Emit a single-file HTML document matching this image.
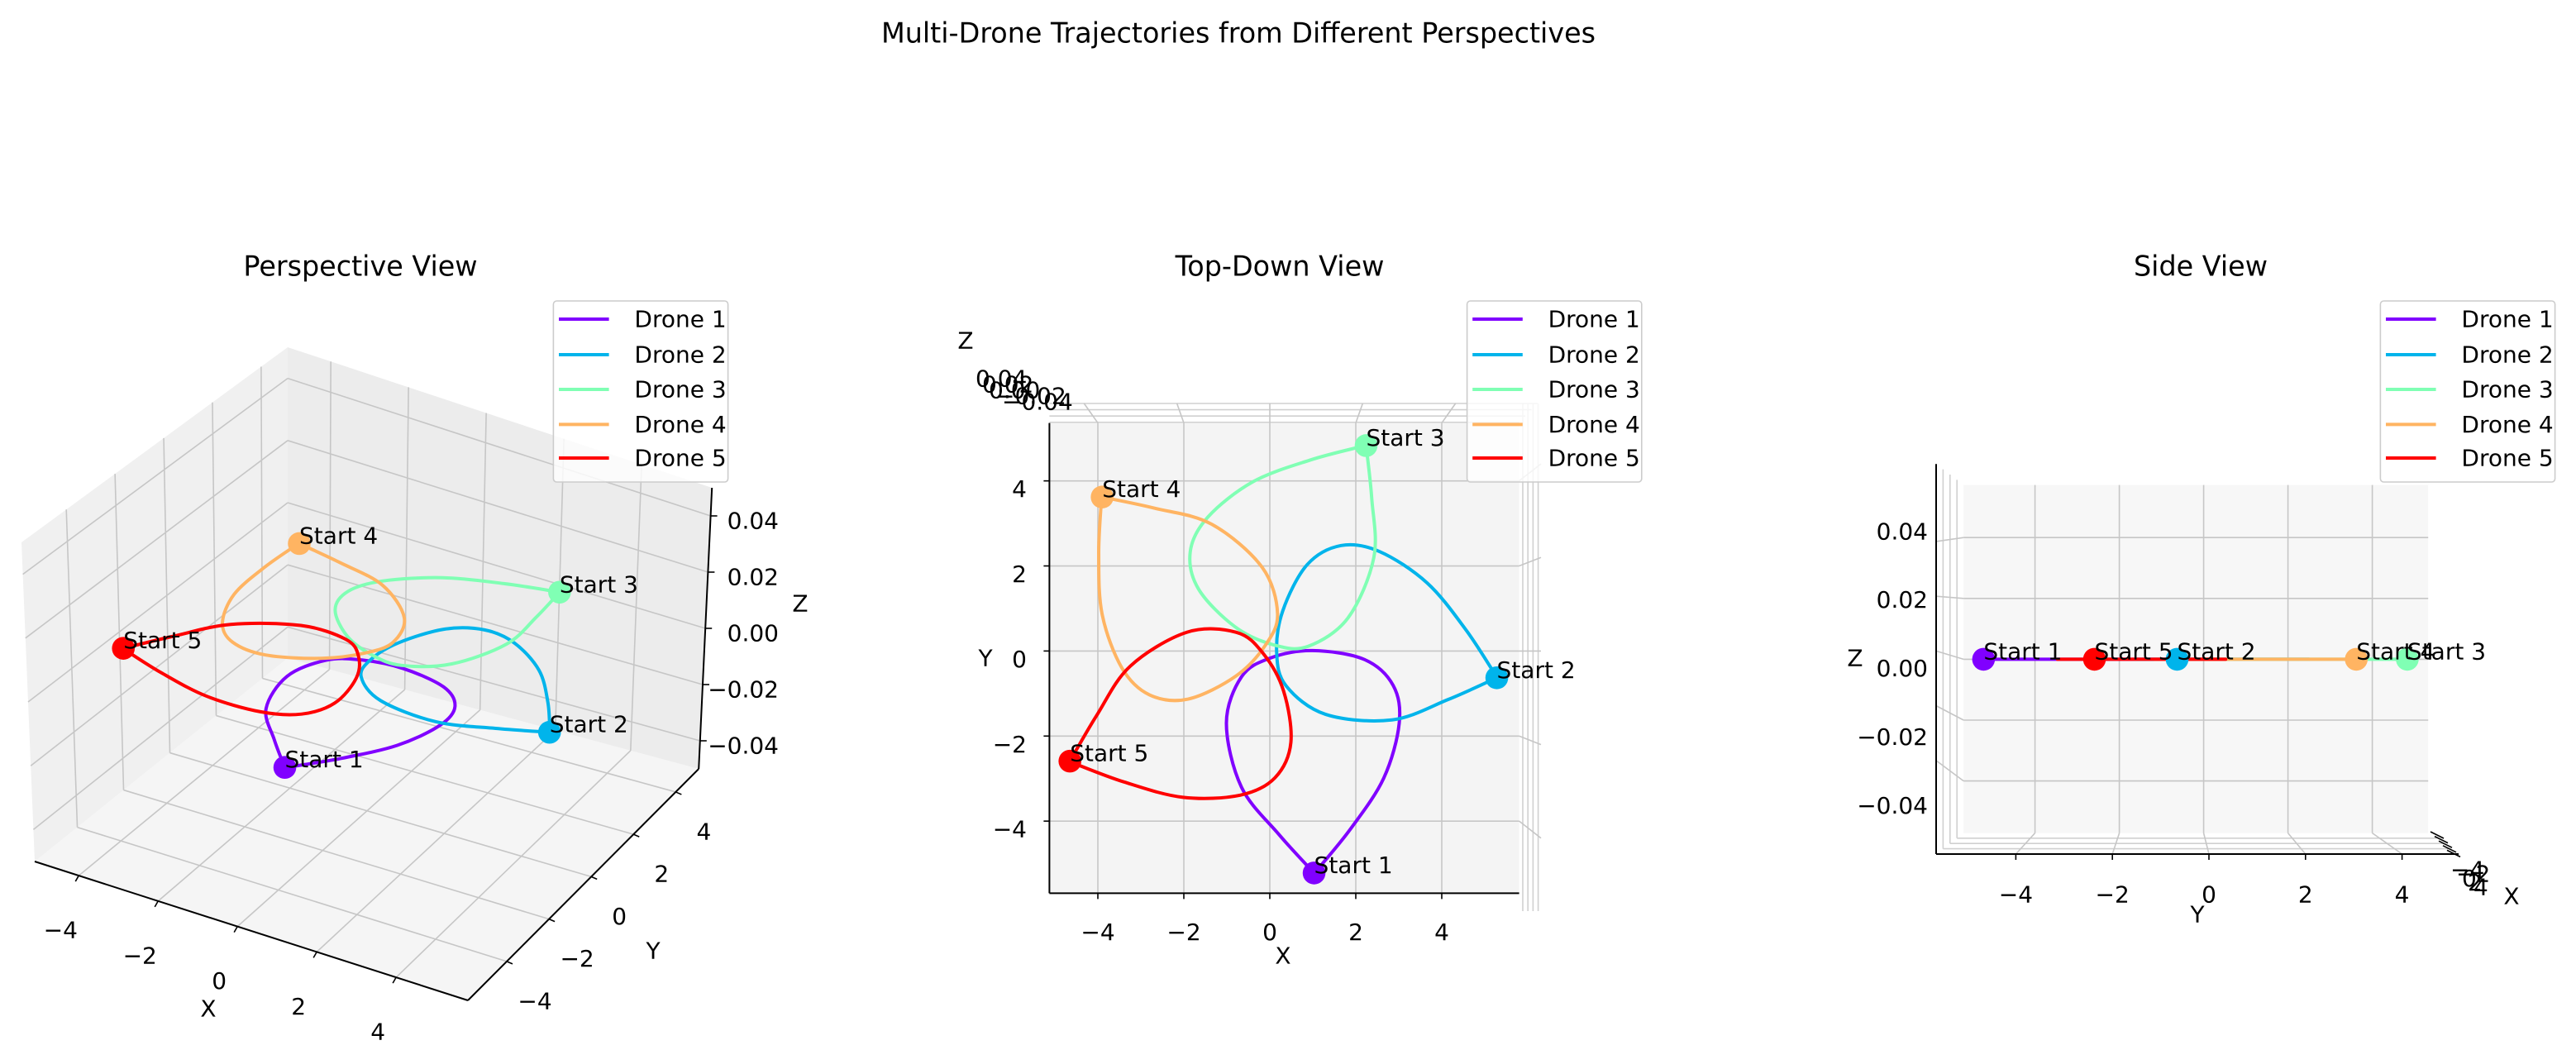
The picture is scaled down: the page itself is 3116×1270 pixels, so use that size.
<!DOCTYPE html>
<html><head><meta charset="utf-8"><style>
html,body{margin:0;padding:0;background:#fff}
svg{display:block}
text{font-family:"DejaVu Sans","Liberation Sans",sans-serif;fill:#000}
</style></head><body>
<svg id="fig" width="3116" height="1270" viewBox="0 0 1558 635" preserveAspectRatio="none" xmlns="http://www.w3.org/2000/svg">
<text x="749" y="20" font-size="16.7" text-anchor="middle" dominant-baseline="central">Multi-Drone Trajectories from Different Perspectives</text>
<text x="218" y="161" font-size="16.7" text-anchor="middle" dominant-baseline="central">Perspective View</text>
<text x="774" y="161" font-size="16.7" text-anchor="middle" dominant-baseline="central">Top-Down View</text>
<text x="1331" y="161" font-size="16.7" text-anchor="middle" dominant-baseline="central">Side View</text>
</svg>
<script>
const droneNames = ['Drone 1','Drone 2','Drone 3','Drone 4','Drone 5'];
const startLabels = ['Start 1','Start 2','Start 3','Start 4','Start 5'];
const drone1X = [1.03,0.2,-0.66,-1.01,-0.66,0,0.99,2.2,2.87,3.01,2.65,1.88,1.1];
const drone1Y = [-5.22,-4.3,-3.2,-1.7,-0.61,-0.17,0.01,-0.2,-0.81,-1.7,-2.99,-4.18,-5.15];
const drone2X = [5.28,4.15,2.84,1.30,0.38,0.16,0.30,0.87,1.66,2.55,3.66,4.56,5.24];
const drone2Y = [-0.63,-1.14,-1.62,-1.49,-0.82,-0.05,0.94,2.03,2.48,2.34,1.60,0.50,-0.55];
const drone3X = [2.24,2.37,2.42,1.82,0.89,0.10,-0.81,-1.66,-1.85,-1.44,-0.39,0.94,2.14];
const drone3Y = [4.83,3.60,2.20,0.78,0.11,0.14,0.57,1.46,2.34,3.15,3.98,4.49,4.81];
const drone4X = [-3.90,-2.69,-1.35,-0.18,0.18,-0.10,-0.79,-1.90,-2.80,-3.44,-3.90,-3.98,-3.92];
const drone4Y = [3.62,3.36,2.98,1.97,0.88,0.14,-0.59,-1.13,-1.03,-0.40,0.86,2.28,3.52];
const drone5X = [-4.65,-4.03,-3.25,-1.93,-0.78,-0.16,0.32,0.49,0.12,-0.69,-2.02,-3.39,-4.56];
const drone5Y = [-2.59,-1.52,-0.36,0.44,0.44,-0.05,-0.94,-2.15,-2.98,-3.39,-3.44,-3.08,-2.64];
const drone1Z = [0,0,0,0,0,0,0,0,0,0,0,0,0];
const drone2Z = [0,0,0,0,0,0,0,0,0,0,0,0,0];
const drone3Z = [0,0,0,0,0,0,0,0,0,0,0,0,0];
const drone4Z = [0,0,0,0,0,0,0,0,0,0,0,0,0];
const drone5Z = [0,0,0,0,0,0,0,0,0,0,0,0,0];
const xyTicks = [-4,-2,0,2,4];
const xyTickLabels = ['−4','−2','0','2','4'];
const zTicks = [0.04,0.02,0,-0.02,-0.04];
const zTickLabels = ['0.04','0.02','0.00','−0.02','−0.04'];

const dronesX=[drone1X,drone2X,drone3X,drone4X,drone5X];
const dronesY=[drone1Y,drone2Y,drone3Y,drone4Y,drone5Y];
const dronesZ=[drone1Z,drone2Z,drone3Z,drone4Z,drone5Z];
const colors=['#8000ff','#00b4eb','#80ffb4','#ffb462','#ff0000'];
const NS='http://www.w3.org/2000/svg';
const svg=document.getElementById('fig');
function mk(tag,attrs,parent){const e=document.createElementNS(NS,tag);for(const k in attrs)e.setAttribute(k,attrs[k]);(parent||svg).appendChild(e);return e;}
function txt(s,x,y,size,anchor,base,parent){const t=mk('text',{x:x,y:y,'font-size':size,'text-anchor':anchor||'start','dominant-baseline':base||'central'},parent);t.textContent=s;return t;}
function line(a,b,stroke,w,parent){return mk('line',{x1:a[0],y1:a[1],x2:b[0],y2:b[1],stroke:stroke,'stroke-width':w},parent);}
function smooth(pts){let d='M'+pts[0][0].toFixed(2)+','+pts[0][1].toFixed(2);for(let i=0;i<pts.length-1;i++){const p0=pts[Math.max(0,i-1)],p1=pts[i],p2=pts[i+1],p3=pts[Math.min(pts.length-1,i+2)];const c1=[p1[0]+(p2[0]-p0[0])/6,p1[1]+(p2[1]-p0[1])/6],c2=[p2[0]-(p3[0]-p1[0])/6,p2[1]-(p3[1]-p1[1])/6];d+='C'+c1[0].toFixed(2)+','+c1[1].toFixed(2)+' '+c2[0].toFixed(2)+','+c2[1].toFixed(2)+' '+p2[0].toFixed(2)+','+p2[1].toFixed(2);}return d;}
function legend(x0,g){const box=mk('rect',{x:x0,y:182,width:105.6,height:109.5,rx:2,fill:'#fff','fill-opacity':0.8,stroke:'#cccccc','stroke-width':0.8},g);


const offs=[11,32.5,53.5,74.7,95];
for(let i=0;i<5;i++){const l=line([x0+3.3,182+offs[i]],[x0+33.6,182+offs[i]],colors[i],2,g);


const t=txt(droneNames[i],x0+49,182+offs[i],14,'start','central',g);

}}
function drawDrones(g,proj,panel){
for(let i=0;i<5;i++){const pts=dronesX[i].map((x,k)=>proj(x,dronesY[i][k],dronesZ[i][k]));const p=mk('path',{d:smooth(pts),fill:'none',stroke:colors[i],'stroke-width':2,'stroke-linejoin':'round'},g);

}
for(let i=0;i<5;i++){const s=proj(dronesX[i][0],dronesY[i][0],dronesZ[i][0]);const c=mk('circle',{cx:s[0],cy:s[1],r:6.9,fill:colors[i]},g);

}
for(let i=0;i<5;i++){const s=proj(dronesX[i][0],dronesY[i][0],dronesZ[i][0]);const t=txt(startLabels[i],s[0],s[1],14,'start','alphabetic',g);

}}

/* ---------- Panel 1: perspective ---------- */
const g1=mk('g',{});


const C={L:[21,521],F:[283,605],R:[422.6,465],B:[174,398],Lt:[13,328],Ft:[276,410],Rt:[430.6,295],Bt:[174,210]};
const xl=[-5.11,5.81],yl=[-5.84,5.09],zl=[-0.05,0.05];
function p1raw(x,y,z){const u=(x-xl[0])/(xl[1]-xl[0]),v=(y-yl[0])/(yl[1]-yl[0]),w=(z-zl[0])/(zl[1]-zl[0]);
const bl=(a,b,c,d)=>[0,1].map(k=>(1-u)*(1-v)*a[k]+u*(1-v)*b[k]+u*v*c[k]+(1-u)*v*d[k]);
const bo=bl(C.L,C.F,C.R,C.B),tp=bl(C.Lt,C.Ft,C.Rt,C.Bt);return [bo[0]+(tp[0]-bo[0])*w,bo[1]+(tp[1]-bo[1])*w];}
function p1grid(x,y,z){return p1raw(x,y,z);}
function p1(x,y,z){const p=p1raw(x,y,z);return [p[0]-0.9*Math.max(0,x)+0.5*Math.min(0,x)*0,p[1]];}
const pts=a=>a.map(p=>p.join(',')).join(' ');
const floor=mk('polygon',{points:pts([C.L,C.F,C.R,C.B]),fill:'#f5f5f5'},g1);


const lw=mk('polygon',{points:pts([C.L,C.B,C.Bt,C.Lt]),fill:'#f0f0f0'},g1);


const rw=mk('polygon',{points:pts([C.B,C.R,C.Rt,C.Bt]),fill:'#ececec'},g1);


const gc='#c6c6c6';
xyTicks.forEach(v=>{
line(p1grid(v,yl[0],zl[0]),p1grid(v,yl[1],zl[0]),gc,0.8,g1);
line(p1grid(v,yl[1],zl[0]),p1grid(v,yl[1],zl[1]),gc,0.8,g1);
line(p1grid(xl[0],v,zl[0]),p1grid(xl[1],v,zl[0]),gc,0.8,g1);
line(p1grid(xl[0],v,zl[0]),p1grid(xl[0],v,zl[1]),gc,0.8,g1);});
zTicks.forEach(v=>{line(p1grid(xl[0],yl[0],v),p1grid(xl[0],yl[1],v),gc,0.8,g1);line(p1grid(xl[0],yl[1],v),p1grid(xl[1],yl[1],v),gc,0.8,g1);});
const ax1=line(C.L,C.F,'#000',1,g1);


const ay1=line(C.F,C.R,'#000',1,g1);


const az1=line(C.R,C.Rt,'#000',1,g1);


xyTicks.forEach((v,i)=>{const a=p1grid(v,yl[0],zl[0]);line(a,[a[0]-2,a[1]+3.5],'#000',0.8,g1);
const t=txt(xyTickLabels[i],a[0]-11,a[1]+33,14,'middle','central',g1);


const b=p1grid(xl[1],v,zl[0]);line(b,[b[0]+3.5,b[1]+1.5],'#000',0.8,g1);
const t2=txt(xyTickLabels[i],b[0]+17,b[1]+24,14,'middle','central',g1);

});
zTicks.forEach((v,i)=>{const a=p1grid(xl[1],yl[1],v);line(a,[a[0]+4,a[1]],'#000',0.8,g1);
const t=txt(zTickLabels[i],471,a[1]+3,14,'end','central',g1);

});
const xlab=txt('X',126,610,14,'middle','central',g1);


const ylab=txt('Y',395,575,14,'middle','central',g1);


const zlab=txt('Z',484,365,14,'middle','central',g1);


drawDrones(g1,p1,'perspective');
const lg1=mk('g',{});


legend(334.7,lg1);

/* ---------- Panel 2: top-down ---------- */
const g2=mk('g',{});


const sx2=x=>768+x*26, sy2=y=>393.7-y*25.72;
function p2(x,y,z){return [sx2(x),sy2(y)];}
const ax2L=634.7,ax2R=918.8,ax2T=255.8,ax2B=540.2;
for(let k=0;k<4;k++){line([ax2L,244+k*3.8],[930-k*3.7,244+k*3.8],'#d0d0d0',0.8,g2);line([921+k*3.1,244],[921+k*3.1,551],'#d0d0d0',0.8,g2);}
const pane2=mk('rect',{x:ax2L,y:ax2T,width:ax2R-ax2L,height:ax2B-ax2T,fill:'#f4f4f4'},g2);


xyTicks.forEach((v,i)=>{const x=sx2(v),y=sy2(v);
line([x,ax2T],[x,ax2B],gc,0.8,g2);line([x,ax2T],[768+(x-768)*1.08,244],gc,0.8,g2);
line([ax2L,y],[ax2R,y],gc,0.8,g2);line([ax2R,y],[932,y+(y-393.7)*0.1],gc,0.8,g2);
line([x,ax2B],[x,ax2B+3.5],'#000',0.8,g2);line([ax2L,y],[ax2L-3.5,y],'#000',0.8,g2);
const t=txt(xyTickLabels[i],x,563.7,14,'middle','central',g2);


const t2=txt(xyTickLabels[i],621,y+5,14,'end','central',g2);

});
line([ax2L,ax2T],[ax2L,ax2B],'#000',1,g2);line([ax2L,ax2B],[ax2R,ax2B],'#000',1,g2);
zTickLabels.forEach((s,i)=>{const t=txt(s,590+i*4,229+i*3.5,14,'start','central',g2);

});
const xlab2=txt('X',776,578,14,'middle','central',g2);


const ylab2=txt('Y',596,398,14,'middle','central',g2);


const zlab2=txt('Z',584,206,14,'middle','central',g2);


drawDrones(g2,p2,'top-down');
const lg2=mk('g',{});


legend(887.3,lg2);

/* ---------- Panel 3: side ---------- */
const g3=mk('g',{});


const sx3=y=>1332.8+y*25.5, sz3=z=>398.7-z*1840;
function p3(x,y,z){return [sx3(y),sz3(z)];}
const tx3=y=>1336+y*29.2, tz3=z=>404.3-z*2072;
const pL=1187.6,pR=1468.6,pT=293.3,pB=503.8;
for(let k=0;k<4;k++){line([1171+k*4.2,280.6+k*3.2],[1171+k*4.2,516.5-k*3.2],'#d0d0d0',0.8,g3);line([1171+k*4.2,516.5-k*3.2],[1487-k*4.5,516.5-k*3.2],'#d0d0d0',0.8,g3);}
const pane3=mk('rect',{x:pL,y:pT,width:pR-pL,height:pB-pT,fill:'#f7f7f7'},g3);


xyTicks.forEach((v,i)=>{const x=sx3(v);line([x,pT],[x,pB],gc,0.8,g3);line([x,pB],[tx3(v),516.5],gc,0.8,g3);
line([tx3(v),516.5],[tx3(v),520],'#000',0.8,g3);
const t=txt(xyTickLabels[i],tx3(v),541,14,'middle','central',g3);

});
zTicks.forEach((v,i)=>{const y=sz3(v);line([pL,y],[pR,y],gc,0.8,g3);line([pL,y],[1171,y-(y-398.7)*0.1-5],gc,0.8,g3);
const t=txt(zTickLabels[i],1166,tz3(v),14,'end','central',g3);

});
line([1171,280.6],[1171,516.5],'#000',1,g3);line([1171,516.5],[1487,516.5],'#000',1,g3);
for(let k=0;k<5;k++){line([1470+k*2.5,503+k*2.8],[1478+k*2.5,507+k*2.8],'#000',0.8,g3);}
xyTickLabels.forEach((s,i)=>{const t=txt(s,1482+i*3.5,526+i*2.6,14,'start','central',g3);

});
const xlab3=txt('X',1519,542,14,'middle','central',g3);


const ylab3=txt('Y',1329,553,14,'middle','central',g3);


const zlab3=txt('Z',1122,398,14,'middle','central',g3);


drawDrones(g3,p3,'side');
const lg3=mk('g',{});


legend(1439.7,lg3);
</script>
</body></html>
